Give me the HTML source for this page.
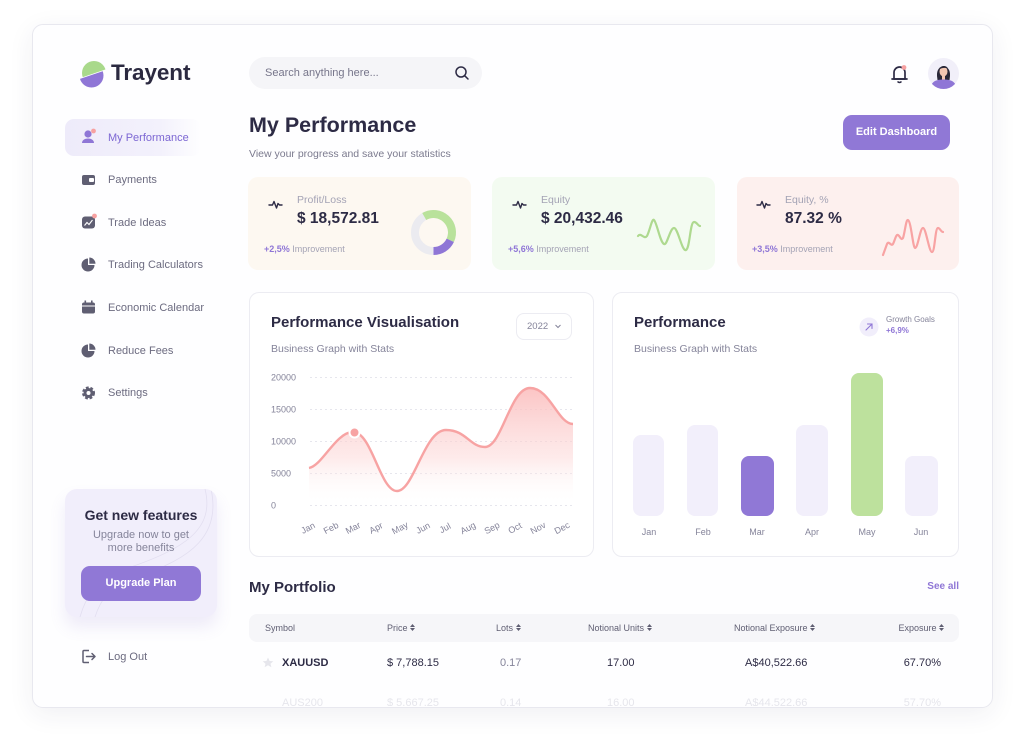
<!DOCTYPE html>
<html><head><meta charset="utf-8">
<style>
*{margin:0;padding:0;box-sizing:border-box}
html,body{width:1024px;height:747px;background:#fff;overflow:hidden;font-family:"Liberation Sans",sans-serif;color:#2d2b45}
.frame{position:absolute;left:32px;top:24px;width:961px;height:684px;border:1px solid #e8e8ef;border-radius:11px;background:#fefeff;box-shadow:0 6px 26px rgba(40,40,90,0.07)}
.a{position:absolute}
.t{position:absolute;white-space:nowrap;line-height:1}
.b{font-weight:700}
.nav{font-size:11px;color:#6c6b80}
.gray{color:#85849a}
.lab{font-size:10.5px;color:#a4a3b5}
.val{font-size:15.5px;font-weight:700;color:#2d2b45}
.imp{font-size:9px;color:#a4a3b5}
.imp b{color:#8f76d6;font-weight:700}
.card{position:absolute;border-radius:10px}
.box{position:absolute;border:1px solid #ececf2;border-radius:10px;background:#fff}
.th{font-size:9px;color:#5f5e72}
.td{font-size:11px;color:#2d2b45}
.fd{font-size:11px;color:#e6e6ec}
</style></head><body>
<div class="frame"></div>

<!-- Sidebar -->
<div class="a" style="left:65px;top:119px;width:136px;height:37px;border-radius:9px;background:linear-gradient(90deg,#eeebfa 0%,#f3f1fc 70%,rgba(245,243,253,0) 100%)"></div>
<div class="t b" style="left:111px;top:62px;font-size:22.5px;color:#2b2940;letter-spacing:-0.1px">Trayent</div>
<div class="t nav" style="left:108px;top:132.5px;color:#7c66d3">My Performance</div>
<div class="t nav" style="left:108px;top:175px">Payments</div>
<div class="t nav" style="left:108px;top:218px">Trade Ideas</div>
<div class="t nav" style="left:108px;top:260px">Trading Calculators</div>
<div class="t nav" style="left:108px;top:303px">Economic Calendar</div>
<div class="t nav" style="left:108px;top:346px">Reduce Fees</div>
<div class="t nav" style="left:108px;top:388px">Settings</div>
<div class="t nav" style="left:108px;top:652px">Log Out</div>

<!-- Upgrade card -->
<div class="a" style="left:65px;top:489px;width:152px;height:128px;border-radius:12px;background:#f1eefb;box-shadow:0 10px 16px rgba(130,110,200,0.13);overflow:hidden">
<svg width="152" height="128" style="position:absolute;left:0;top:0"><path d="M140,0 C150,40 120,60 60,80 C30,90 20,110 15,128" fill="none" stroke="#e2def0" stroke-width="0.8"/><path d="M146,0 C156,45 128,70 70,88 C45,96 35,112 30,128" fill="none" stroke="#e2def0" stroke-width="0.8"/></svg>
</div>
<div class="t b" style="left:65px;width:152px;text-align:center;top:507.5px;font-size:14px;color:#2d2b45">Get new features</div>
<div class="t gray" style="left:65px;width:152px;text-align:center;top:530px;font-size:11px">Upgrade now to get</div>
<div class="t gray" style="left:65px;width:152px;text-align:center;top:543px;font-size:11px">more benefits</div>
<div class="a" style="left:81px;top:566px;width:120px;height:35px;border-radius:9px;background:#9078d6"></div>
<div class="t b" style="left:81px;width:120px;text-align:center;top:578px;font-size:11px;color:#fff">Upgrade Plan</div>

<!-- Header -->
<div class="a" style="left:249px;top:57px;width:233px;height:32px;border-radius:16px;background:#f5f5f8"></div>
<div class="t" style="left:265px;top:68px;font-size:11px;color:#76758a">Search anything here...</div>
<div class="t b" style="left:249px;top:114.5px;font-size:21.5px;color:#2d2b45">My Performance</div>
<div class="t" style="left:249px;top:148.5px;font-size:10.5px;color:#7b7a8e">View your progress and save your statistics</div>
<div class="a" style="left:843px;top:115px;width:107px;height:35px;border-radius:9px;background:#9078d6"></div>
<div class="t b" style="left:843px;width:107px;text-align:center;top:127px;font-size:11px;color:#fff">Edit Dashboard</div>

<!-- Stat cards -->
<div class="card" style="left:248px;top:177px;width:223px;height:93px;background:#fdf8f1"></div>
<div class="card" style="left:492px;top:177px;width:223px;height:93px;background:#f3fbf1"></div>
<div class="card" style="left:737px;top:177px;width:222px;height:93px;background:#fdf0ee"></div>

<div class="t lab" style="left:297px;top:194.5px">Profit/Loss</div>
<div class="t val" style="left:297px;top:210.5px">$ 18,572.81</div>
<div class="t imp" style="left:264px;top:244.5px"><b>+2,5%</b> Improvement</div>

<div class="t lab" style="left:541px;top:194.5px">Equity</div>
<div class="t val" style="left:541px;top:210.5px">$ 20,432.46</div>
<div class="t imp" style="left:508px;top:244.5px"><b>+5,6%</b> Improvement</div>

<div class="t lab" style="left:785px;top:194.5px">Equity, %</div>
<div class="t val" style="left:785px;top:210.5px">87.32 %</div>
<div class="t imp" style="left:752px;top:244.5px"><b>+3,5%</b> Improvement</div>

<!-- Chart cards -->
<div class="box" style="left:249px;top:292px;width:345px;height:265px"></div>
<div class="box" style="left:612px;top:292px;width:347px;height:265px"></div>
<div class="t b" style="left:271px;top:315px;font-size:15px">Performance Visualisation</div>
<div class="t gray" style="left:271px;top:344px;font-size:10.5px">Business Graph with Stats</div>
<div class="a" style="left:516px;top:313px;width:56px;height:27px;border:1px solid #ececf2;border-radius:8px"></div>
<div class="t" style="left:527px;top:321.5px;font-size:9.5px;color:#85849a">2022</div>

<div class="t b" style="left:634px;top:315px;font-size:15px">Performance</div>
<div class="t gray" style="left:634px;top:344px;font-size:10.5px">Business Graph with Stats</div>
<div class="t" style="left:886px;top:316px;font-size:8px;color:#85849a">Growth Goals</div>
<div class="t b" style="left:886px;top:327px;font-size:8px;color:#8f76d6">+6,9%</div>

<!-- Portfolio -->
<div class="t b" style="left:249px;top:580px;font-size:15px">My Portfolio</div>
<div class="t b" style="left:900px;width:59px;text-align:right;top:582px;font-size:10px;color:#8f76d6">See all</div>
<div class="a" style="left:249px;top:614px;width:710px;height:28px;border-radius:8px;background:#f6f6f9"></div>
<div class="t th" style="left:265px;top:624px">Symbol</div>
<div class="t th" style="left:387px;top:624px">Price <svg width="5" height="7"><path d="M0 3L2.5 0L5 3ZM0 4L2.5 7L5 4Z" fill="#5f5e72"/></svg></div>
<div class="t th" style="left:496px;top:624px">Lots <svg width="5" height="7"><path d="M0 3L2.5 0L5 3ZM0 4L2.5 7L5 4Z" fill="#5f5e72"/></svg></div>
<div class="t th" style="left:588px;top:624px">Notional Units <svg width="5" height="7"><path d="M0 3L2.5 0L5 3ZM0 4L2.5 7L5 4Z" fill="#5f5e72"/></svg></div>
<div class="t th" style="left:734px;top:624px">Notional Exposure <svg width="5" height="7"><path d="M0 3L2.5 0L5 3ZM0 4L2.5 7L5 4Z" fill="#5f5e72"/></svg></div>
<div class="t th" style="left:850px;width:94px;text-align:right;top:624px">Exposure <svg width="5" height="7"><path d="M0 3L2.5 0L5 3ZM0 4L2.5 7L5 4Z" fill="#5f5e72"/></svg></div>

<div class="t td b" style="left:282px;top:657.5px">XAUUSD</div>
<div class="t td" style="left:387px;top:657.5px">$ 7,788.15</div>
<div class="t td" style="left:500px;top:657.5px;color:#85849a">0.17</div>
<div class="t td" style="left:607px;top:657.5px">17.00</div>
<div class="t td" style="left:745px;top:657.5px">A$40,522.66</div>
<div class="t td" style="left:860px;width:81px;text-align:right;top:657.5px">67.70%</div>

<div class="a" style="left:0;top:0;width:1024px;height:706px;overflow:hidden">
<div class="t fd" style="left:282px;top:698px">AUS200</div>
<div class="t fd" style="left:387px;top:698px">$ 5,667.25</div>
<div class="t fd" style="left:500px;top:698px">0.14</div>
<div class="t fd" style="left:607px;top:698px">16.00</div>
<div class="t fd" style="left:745px;top:698px">A$44,522.66</div>
<div class="t fd" style="left:860px;width:81px;text-align:right;top:698px">57.70%</div>
</div>

<svg class="a" style="left:0;top:0" width="1024" height="747" viewBox="0 0 1024 747">
<defs>
<clipPath id="cg"><polygon points="70,55 116,55 116,65.9 70,81.5"/></clipPath>
<clipPath id="cp"><polygon points="70,82.3 116,66.7 116,95 70,95"/></clipPath>
<clipPath id="av"><circle cx="943.5" cy="73.5" r="15.5"/></clipPath>
<linearGradient id="ag" x1="0" y1="388" x2="0" y2="505" gradientUnits="userSpaceOnUse">
<stop offset="0" stop-color="#fbbaba" stop-opacity="0.85"/>
<stop offset="0.6" stop-color="#fcd6d6" stop-opacity="0.5"/>
<stop offset="1" stop-color="#ffffff" stop-opacity="0"/>
</linearGradient>
</defs>
<!-- logo -->
<circle cx="94" cy="73" r="12" fill="#a9d98b" clip-path="url(#cg)"/>
<circle cx="91.5" cy="75.5" r="12" fill="#8f76d6" clip-path="url(#cp)"/>

<!-- sidebar icons -->
<circle cx="88" cy="134" r="3.6" fill="#8f76d6"/>
<path d="M82,143 C82,137 94,137 94,143 Z" fill="#8f76d6"/>
<circle cx="93.5" cy="131" r="2.4" fill="#f7a1a1"/>
<rect x="82" y="175" width="13" height="10" rx="2" fill="#5f5e72"/>
<rect x="89" y="178" width="5" height="4" rx="1" fill="#fff"/>
<rect x="82" y="216.5" width="13" height="12" rx="3" fill="#5f5e72"/>
<path d="M84.5,225.5 L87,222.5 L89,224.5 L92.5,220" fill="none" stroke="#fff" stroke-width="1.1"/>
<circle cx="94.5" cy="216" r="2.4" fill="#f7a1a1"/>
<path d="M88,258.5 A6.5,6.5 0 1 0 94.5,265 L88,265 Z" fill="#5f5e72"/>
<path d="M89.3,257.5 A6.3,6.3 0 0 1 95.5,263.7 L89.3,263.7 Z" fill="#5f5e72"/>
<rect x="82" y="302.5" width="13" height="11" rx="2" fill="#5f5e72"/>
<rect x="84.5" y="300.5" width="1.6" height="3.5" fill="#5f5e72"/><rect x="91" y="300.5" width="1.6" height="3.5" fill="#5f5e72"/>
<rect x="82" y="305.5" width="13" height="1" fill="#fff"/>
<path d="M88,344.5 A6.5,6.5 0 1 0 94.5,351 L88,351 Z" fill="#5f5e72"/>
<path d="M89.3,343.5 A6.3,6.3 0 0 1 95.5,349.7 L89.3,349.7 Z" fill="#5f5e72"/>
<circle cx="88.5" cy="393" r="5" fill="#5f5e72" stroke="#5f5e72" stroke-width="3" stroke-dasharray="2.6 1.6"/>
<circle cx="88.5" cy="393" r="2" fill="#fff"/>
<path d="M89,650.5 L84,650.5 Q83,650.5 83,651.5 L83,661.5 Q83,662.5 84,662.5 L89,662.5" fill="none" stroke="#5f5e72" stroke-width="1.5"/>
<path d="M86.5,656.5 L95,656.5 M92,653.5 L95,656.5 L92,659.5" fill="none" stroke="#5f5e72" stroke-width="1.5" stroke-linecap="round" stroke-linejoin="round"/>

<!-- search icon -->
<circle cx="461" cy="72" r="5" fill="none" stroke="#2d2b45" stroke-width="1.5"/>
<path d="M464.8,75.8 L468,79" stroke="#2d2b45" stroke-width="1.5" stroke-linecap="round"/>
<!-- bell -->
<path d="M894,79 L894,72.5 A5.5,5.5 0 0 1 905,72.5 L905,79 Z" fill="none" stroke="#2d2b45" stroke-width="1.7" stroke-linejoin="round"/>
<path d="M892,79 L907,79" stroke="#2d2b45" stroke-width="1.7" stroke-linecap="round"/>
<path d="M897.5,81.5 Q899.5,83.5 901.5,81.5" fill="none" stroke="#2d2b45" stroke-width="1.5"/>
<circle cx="904" cy="67.5" r="2.4" fill="#f7a1a1"/>
<!-- avatar -->
<circle cx="943.5" cy="73.5" r="15.5" fill="#f1eff9"/>
<g clip-path="url(#av)">
<path d="M937,76 C936,63 951,63 950,76 L949.5,80 L937.5,80 Z" fill="#2a2838"/>
<ellipse cx="943.5" cy="71.5" rx="4" ry="5" fill="#f3c7b2"/>
<path d="M939.3,69.5 C940,65 947,65 947.7,68.5 C945,67.5 942,67.5 939.3,69.5 Z" fill="#2a2838"/>
<rect x="942" y="75" width="3" height="5" fill="#f3c7b2"/>
<path d="M930,92 C930,82 935,79.5 943.5,79.5 C952,79.5 957,82 957,92 Z" fill="#8f76d6"/>
</g>

<!-- pulse icons -->
<path d="M269,205 L272.5,205 L274,201.5 L276.5,208 L278,203.5 L279.5,205 L282,205" fill="none" stroke="#2d2b45" stroke-width="1.4" stroke-linejoin="round" stroke-linecap="round"/>
<path d="M513,205 L516.5,205 L518,201.5 L520.5,208 L522,203.5 L523.5,205 L526,205" fill="none" stroke="#2d2b45" stroke-width="1.4" stroke-linejoin="round" stroke-linecap="round"/>
<path d="M757,205 L760.5,205 L762,201.5 L764.5,208 L766,203.5 L767.5,205 L770,205" fill="none" stroke="#2d2b45" stroke-width="1.4" stroke-linejoin="round" stroke-linecap="round"/>

<!-- donut -->
<circle cx="433.5" cy="232.5" r="18.5" fill="none" stroke="#ebebf0" stroke-width="8"/>
<path d="M424.25,216.5 A18.5,18.5 0 0 1 450.27,240.32" fill="none" stroke="#b9e29b" stroke-width="8"/>
<path d="M450.27,240.32 A18.5,18.5 0 0 1 433.5,251" fill="none" stroke="#8f76d6" stroke-width="8"/>

<!-- sparklines -->
<path d="M638,236 C641,232 644,240 647,236 C650,230 652,218 654,220 C657,223 660,242 664,244 C667,246 670,228 674,228 C678,228 682,252 686,250 C690,248 690,222 694,222 C697,222 698,226 700,226" fill="none" stroke="#aed98f" stroke-width="2.2" stroke-linecap="round"/>
<path d="M883,255 L887,244 C889,240 891,247 893,244 C895,240 896,234 898,235 C900,236 901,241 903,238 C905,232 906,219 908,220 C911,221 913,248 915,248 C918,248 920,228 923,228 C926,228 929,252 932,252 C935,252 935,228 938,228 C940,228 941,232 943,232" fill="none" stroke="#f8a3a3" stroke-width="2.2" stroke-linecap="round"/>

<!-- dropdown chevron -->
<path d="M555.5,325 L558,327.5 L560.5,325" fill="none" stroke="#85849a" stroke-width="1"/>

<!-- line chart grid -->
<g stroke="#e6e6ed" stroke-width="1" stroke-dasharray="2 3">
<line x1="310" y1="377.5" x2="572" y2="377.5"/>
<line x1="310" y1="409.5" x2="572" y2="409.5"/>
<line x1="310" y1="441.5" x2="572" y2="441.5"/>
<line x1="310" y1="473.5" x2="572" y2="473.5"/>
<line x1="310" y1="505.5" x2="572" y2="505.5"/>
</g>
<g font-family="Liberation Sans, sans-serif" font-size="9" fill="#85849a">
<text x="271" y="380.5">20000</text>
<text x="271" y="412.5">15000</text>
<text x="271" y="444.5">10000</text>
<text x="271" y="476.5">5000</text>
<text x="271" y="508.5">0</text>
</g>
<path d="M309,468 C322,466 336,432 353,432 C372,432 380,491 397,491 C414,491 424,430 446,430 C466,430 470,447 485,447 C502,447 510,388 530,388 C550,388 558,424 573,424 L573,505 L309,505 Z" fill="url(#ag)"/>
<path d="M309,468 C322,466 336,432 353,432 C372,432 380,491 397,491 C414,491 424,430 446,430 C466,430 470,447 485,447 C502,447 510,388 530,388 C550,388 558,424 573,424" fill="none" stroke="#f7a3a3" stroke-width="2.4"/>
<circle cx="354.5" cy="432.5" r="5" fill="#f7a3a3" stroke="#fff" stroke-width="2"/>
<g font-family="Liberation Sans, sans-serif" font-size="9" fill="#85849a" text-anchor="middle">
<text x="308" y="531" transform="rotate(-28 308 528)">Jan</text>
<text x="331" y="531" transform="rotate(-28 331 528)">Feb</text>
<text x="353" y="531" transform="rotate(-28 353 528)">Mar</text>
<text x="376" y="531" transform="rotate(-28 376 528)">Apr</text>
<text x="400" y="531" transform="rotate(-28 400 528)">May</text>
<text x="423" y="531" transform="rotate(-28 423 528)">Jun</text>
<text x="445" y="531" transform="rotate(-28 445 528)">Jul</text>
<text x="468" y="531" transform="rotate(-28 468 528)">Aug</text>
<text x="492" y="531" transform="rotate(-28 492 528)">Sep</text>
<text x="515" y="531" transform="rotate(-28 515 528)">Oct</text>
<text x="538" y="531" transform="rotate(-28 538 528)">Nov</text>
<text x="562" y="531" transform="rotate(-28 562 528)">Dec</text>
</g>

<!-- growth icon -->
<circle cx="869" cy="327" r="9.5" fill="#f1eefb"/>
<path d="M866,330 L872,324 M867.5,324 L872,324 L872,328.5" fill="none" stroke="#8f76d6" stroke-width="1.1" stroke-linecap="round"/>

<!-- bars -->
<rect x="633" y="435" width="31" height="81" rx="8" fill="#f2effb"/>
<rect x="687" y="425" width="31" height="91" rx="8" fill="#f2effb"/>
<rect x="741" y="456" width="33" height="60" rx="8" fill="#9078d6"/>
<rect x="796" y="425" width="32" height="91" rx="8" fill="#f2effb"/>
<rect x="851" y="373" width="32" height="143" rx="8" fill="#bde19d"/>
<rect x="905" y="456" width="33" height="60" rx="8" fill="#f2effb"/>
<g font-family="Liberation Sans, sans-serif" font-size="9" fill="#85849a" text-anchor="middle">
<text x="649" y="535">Jan</text>
<text x="703" y="535">Feb</text>
<text x="757" y="535">Mar</text>
<text x="812" y="535">Apr</text>
<text x="867" y="535">May</text>
<text x="921" y="535">Jun</text>
</g>

<!-- star -->
<path d="M268,657.5 L269.6,661 L273.3,661.3 L270.5,663.7 L271.4,667.3 L268,665.3 L264.6,667.3 L265.5,663.7 L262.7,661.3 L266.4,661 Z" fill="#e6e6ec"/>
</svg>
</body></html>
